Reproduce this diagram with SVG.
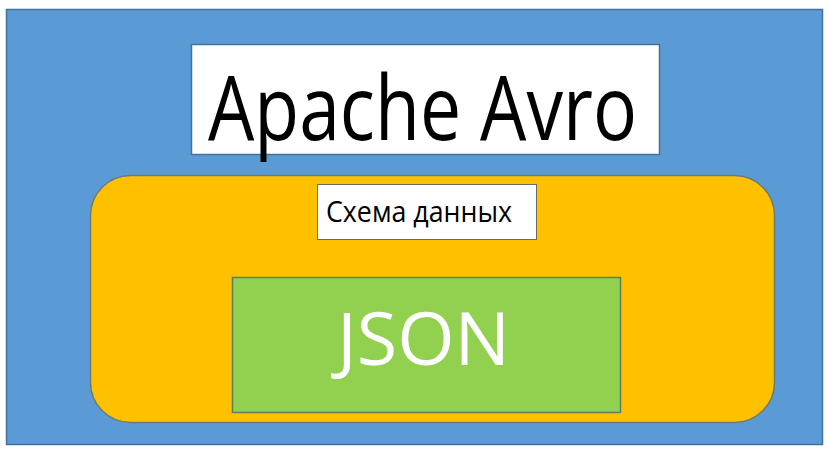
<svg xmlns="http://www.w3.org/2000/svg" width="828" height="450" viewBox="0 0 828 450">
<style>
.t{font-family:"Open Sans","Noto Sans","DejaVu Sans",sans-serif}
</style>
<rect width="828" height="450" fill="#ffffff"/>
<g id="background">
<rect x="6.5" y="9.5" width="816" height="435" fill="#5B9BD5" stroke="#41719C" stroke-width="1.5"/>
</g>
<g id="title">
<rect x="191.5" y="44.5" width="468" height="110" fill="#ffffff" stroke="#41719C" stroke-width="1.5"/>
<text class="t" x="208" y="140" font-size="90" fill="#000000" textLength="429" lengthAdjust="spacingAndGlyphs">Apache Avro</text>
</g>
<g id="schema-container">
<rect x="90.5" y="175.5" width="684" height="247" rx="40" ry="40" fill="#FFC000" stroke="#6B7B78" stroke-width="1.5"/>
</g>
<g id="schema-label">
<rect x="317.5" y="184.5" width="219" height="55" fill="#ffffff" stroke="#6B6B5B" stroke-width="1"/>
<text class="t" x="326" y="221.5" font-size="29" fill="#000000" textLength="186" lengthAdjust="spacingAndGlyphs">Схема данных</text>
</g>
<g id="json">
<rect x="232.5" y="277.5" width="388" height="135" fill="#92D050" stroke="#5E7F5E" stroke-width="1.5"/>
<text class="t" x="337" y="365" font-size="73" fill="#ffffff" textLength="173" lengthAdjust="spacingAndGlyphs">JSON</text>
</g>
<g id="connectors"></g>
</svg>
